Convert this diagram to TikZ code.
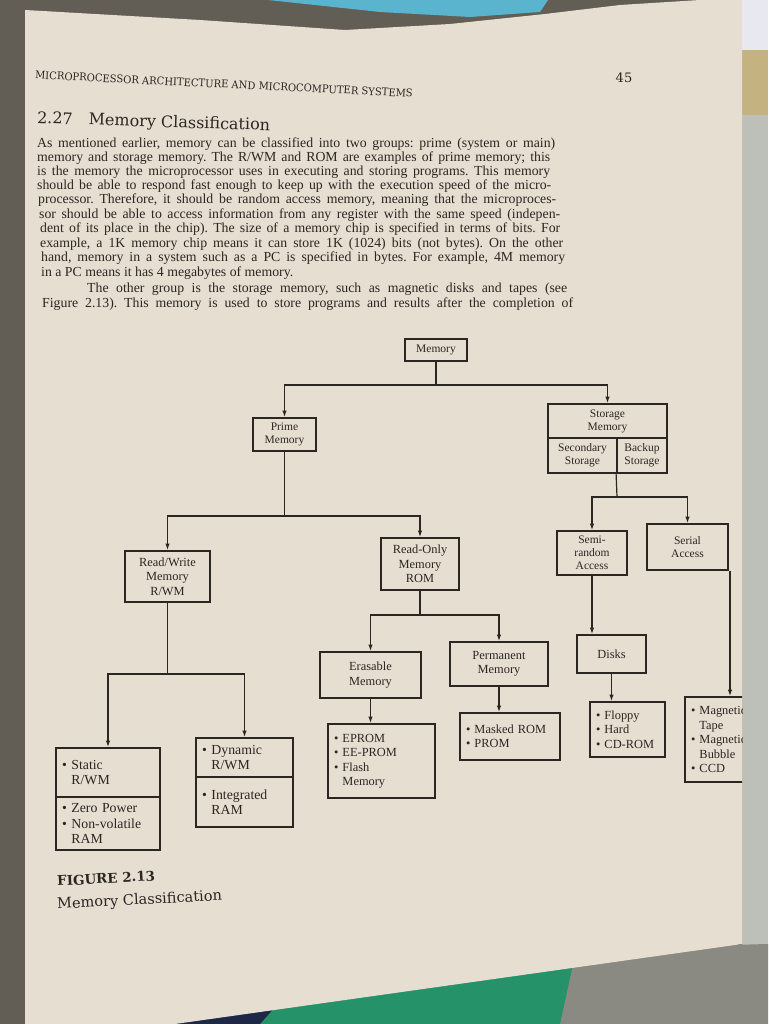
\documentclass[tikz,border=0pt]{standalone}
\usepackage{fontspec}
\setmainfont{Liberation Serif}
\newfontfamily\slabfont{DejaVu Serif}
\usepackage{graphicx}
\usepackage{xcolor}
\usetikzlibrary{arrows.meta}

\definecolor{paper}{RGB}{229,222,209}
\definecolor{ink}{RGB}{44,38,34}
\definecolor{desk}{RGB}{98,94,86}
\definecolor{wall}{RGB}{188,192,184}
\definecolor{wallwhite}{RGB}{232,232,240}
\definecolor{tan}{RGB}{196,178,128}
\definecolor{floor}{RGB}{138,138,130}
\definecolor{cloth}{RGB}{38,146,106}
\definecolor{navy}{RGB}{30,40,70}
\definecolor{lid}{RGB}{90,180,205}

\newcommand{\dotitem}{\textbullet\ }
\newcommand{\dotgap}{\hphantom{\textbullet\ }}
\frenchspacing

\begin{document}
\begin{tikzpicture}[x=1pt,y=-1pt]
    % Define styles
    \tikzstyle{box}=[draw=ink, line width=1.8pt, inner sep=1pt, align=center, text=ink]
    \tikzstyle{list box}=[box, align=left, inner xsep=6pt]
    \tikzstyle{small text}=[font=\fontsize{11.5}{13}\selectfont]
    \tikzstyle{mid text}=[font=\fontsize{12.4}{14.5}\selectfont]
    \tikzstyle{large text}=[font=\fontsize{13.8}{15.5}\selectfont]
    \tikzstyle{link}=[draw=ink, line width=1.2pt]
    \tikzstyle{arrow}=[link, -{Latex[length=6.5pt,width=4.5pt]}]
    \tikzstyle{body}=[anchor=west, inner sep=0pt, text=ink, font=\fontsize{13.8}{15}\selectfont]
    \tikzstyle{slab}=[anchor=west, inner sep=0pt, text=ink]

    \useasboundingbox (0,0) rectangle (768,1024);

    % Surroundings of the page
    \fill[desk] (0,0) rectangle (768,1024);
    \fill[lid] (268,0) -- (548,0) -- (540,12) -- (470,17) -- (380,12) -- cycle;
    \fill[wallwhite] (742,0) rectangle (768,50);
    \fill[tan] (742,50) rectangle (768,115);
    \fill[wall] (742,115) rectangle (768,950);
    \fill[floor] (540,950) -- (768,944) -- (768,1024) -- (540,1024) -- cycle;
    \fill[cloth] (260,1024) -- (290,990) -- (575,955) -- (560,1024) -- cycle;
    \fill[navy] (150,1024) -- (290,990) -- (260,1024) -- cycle;

    \begin{scope}
    \clip (25,10) -- (200,20) -- (345,30) -- (450,24) -- (545,14) -- (620,5) -- (700,0) -- (742,0) -- (742,944) -- (175,1024) -- (25,1024) -- cycle;
    \fill[paper] (0,0) rectangle (768,1024);

    % Running head and section title
    \node[slab, rotate=-2.8] (header) at (35,75) {\resizebox{378pt}{7.8pt}{\slabfont MICROPROCESSOR ARCHITECTURE AND MICROCOMPUTER SYSTEMS}};
    \node[slab, anchor=center] (pagenum) at (624,78) {\slabfont\fontsize{13}{13}\selectfont 45};
    \node[slab, rotate=-1.8] (title) at (37,119) {\resizebox{233pt}{!}{\slabfont 2.27\hspace{1em}Memory Classification}};

    % Body text
    \node[body] (line1) at (37,144) {\makebox[518pt][s]{As mentioned earlier, memory can be classified into two groups: prime (system or main)}};
    \node[body] (line2) at (37,158) {\makebox[513pt][s]{memory and storage memory. The R/WM and ROM are examples of prime memory; this}};
    \node[body] (line3) at (37,172.5) {\makebox[513pt][s]{is the memory the microprocessor uses in executing and storing programs. This memory}};
    \node[body] (line4) at (37,186.5) {\makebox[514pt][s]{should be able to respond fast enough to keep up with the execution speed of the micro-}};
    \node[body] (line5) at (38,200.5) {\makebox[518pt][s]{processor. Therefore, it should be random access memory, meaning that the microproces-}};
    \node[body] (line6) at (39,215) {\makebox[521pt][s]{sor should be able to access information from any register with the same speed (indepen-}};
    \node[body] (line7) at (40,229.5) {\makebox[520pt][s]{dent of its place in the chip). The size of a memory chip is specified in terms of bits. For}};
    \node[body] (line8) at (40,244) {\makebox[523pt][s]{example, a 1K memory chip means it can store 1K (1024) bits (not bytes). On the other}};
    \node[body] (line9) at (41,258.5) {\makebox[524pt][s]{hand, memory in a system such as a PC is specified in bytes. For example, 4M memory}};
    \node[body] (line10) at (41,273) {in a PC means it has 4 megabytes of memory.};
    \node[body] (line11) at (87,289.5) {\makebox[480pt][s]{The other group is the storage memory, such as magnetic disks and tapes (see}};
    \node[body] (line12) at (42,304) {\makebox[531pt][s]{Figure 2.13). This memory is used to store programs and results after the completion of}};

    % Top level
    \node[box, small text, minimum width=62pt, minimum height=22pt] (mem) at (436,350) {Memory};
    \node[box, small text, minimum width=63pt, minimum height=33pt] (prime) at (284.5,434.5) {Prime\\Memory};
    \node[box, small text, minimum width=119pt, minimum height=34pt] (stor) at (607.5,421) {Storage\\Memory};
    \node[box, small text, minimum width=69pt, minimum height=35pt] (sec) at (582.5,455.5) {Secondary\\Storage};
    \node[box, small text, minimum width=50pt, minimum height=35pt] (bak) at (642,455.5) {Backup\\Storage};

    % Second level
    \node[box, mid text, minimum width=85pt, minimum height=51pt] (rw) at (167.5,576.5) {Read/Write\\Memory\\R/WM};
    \node[box, mid text, minimum width=78pt, minimum height=52pt] (rom) at (420,564) {Read-Only\\Memory\\ROM};
    \node[box, small text, minimum width=70pt, minimum height=44pt] (semi) at (592,553) {Semi-\\random\\Access};
    \node[box, small text, minimum width=81pt, minimum height=46pt] (serial) at (687.5,547) {Serial\\Access};

    % Third level
    \node[box, mid text, minimum width=101pt, minimum height=46pt] (eras) at (370.5,675) {Erasable\\Memory};
    \node[box, mid text, minimum width=98pt, minimum height=44pt] (perm) at (499,664) {Permanent\\Memory};
    \node[box, mid text, minimum width=69pt, minimum height=38pt] (disks) at (611.5,654) {Disks};

    % Lists of devices
    \node[list box, large text, text width=92pt, minimum height=49pt] (stat) at (108,772.5) {\dotitem Static\\\dotgap R/WM};
    \node[list box, large text, text width=92pt, minimum height=53pt] (zero) at (108,823.5) {\dotitem Zero Power\\\dotitem Non-volatile\\\dotgap RAM};
    \node[list box, large text, text width=85pt, minimum height=39pt] (dyn) at (244.5,757.5) {\dotitem Dynamic\\\dotgap R/WM};
    \node[list box, large text, text width=85pt, minimum height=50pt] (integ) at (244.5,802) {\dotitem Integrated\\\dotgap RAM};
    \node[list box, mid text, text width=95pt, minimum height=74pt] (eprom) at (381.5,761) {\dotitem EPROM\\\dotitem EE-PROM\\\dotitem Flash\\\dotgap Memory};
    \node[list box, mid text, text width=88pt, minimum height=47pt] (mask) at (510,736.5) {\dotitem Masked ROM\\\dotitem PROM};
    \node[list box, mid text, text width=63pt, minimum height=55pt] (flop) at (627.5,729.5) {\dotitem Floppy\\\dotitem Hard\\\dotitem CD-ROM};
    \node[list box, mid text, text width=78pt, minimum height=85pt] (mag) at (730,739.5) {\dotitem Magnetic\\\dotgap Tape\\\dotitem Magnetic\\\dotgap Bubble\\\dotitem CCD};

    % Junctions
    \coordinate (jmem) at (436,385);
    \coordinate (jstor) at (617,497);
    \coordinate (jprime) at (284.5,516);
    \coordinate (jrw) at (167.5,674);
    \coordinate (jrom) at (420,615);

    % Connect levels
    \draw[link] (mem) -- (jmem);
    \draw[arrow] (jmem) -| (prime.north);
    \draw[arrow] (jmem) -| (stor.north);
    \draw[link] (bak.south west) -- (jstor);
    \draw[arrow] (jstor) -| (semi.north);
    \draw[arrow] (jstor) -| (serial.north);
    \draw[link] (prime) -- (jprime);
    \draw[arrow] (jprime) -| (rw.north);
    \draw[arrow] (jprime) -| (rom.north);
    \draw[link] (rw) -- (jrw);
    \draw[arrow] (jrw) -| (stat.north);
    \draw[arrow] (jrw) -| (dyn.north);
    \draw[link] (rom) -- (jrom);
    \draw[arrow] (jrom) -| (eras.north);
    \draw[arrow] (jrom) -| (perm.north);
    \draw[arrow] (semi) -- (semi |- disks.north);
    \draw[arrow] (serial.south -| mag.north) -- (mag.north);
    \draw[arrow] (eras) -- (eras |- eprom.north);
    \draw[arrow] (perm) -- (perm |- mask.north);
    \draw[arrow] (disks) -- (disks |- flop.north);

    % Caption
    \node[slab, rotate=3] (figno) at (57,881) {\resizebox{98pt}{!}{\slabfont\bfseries FIGURE 2.13}};
    \node[slab, rotate=3] (figname) at (57,905) {\resizebox{165pt}{!}{\slabfont Memory Classification}};
    \end{scope}
\end{tikzpicture}
\end{document}
